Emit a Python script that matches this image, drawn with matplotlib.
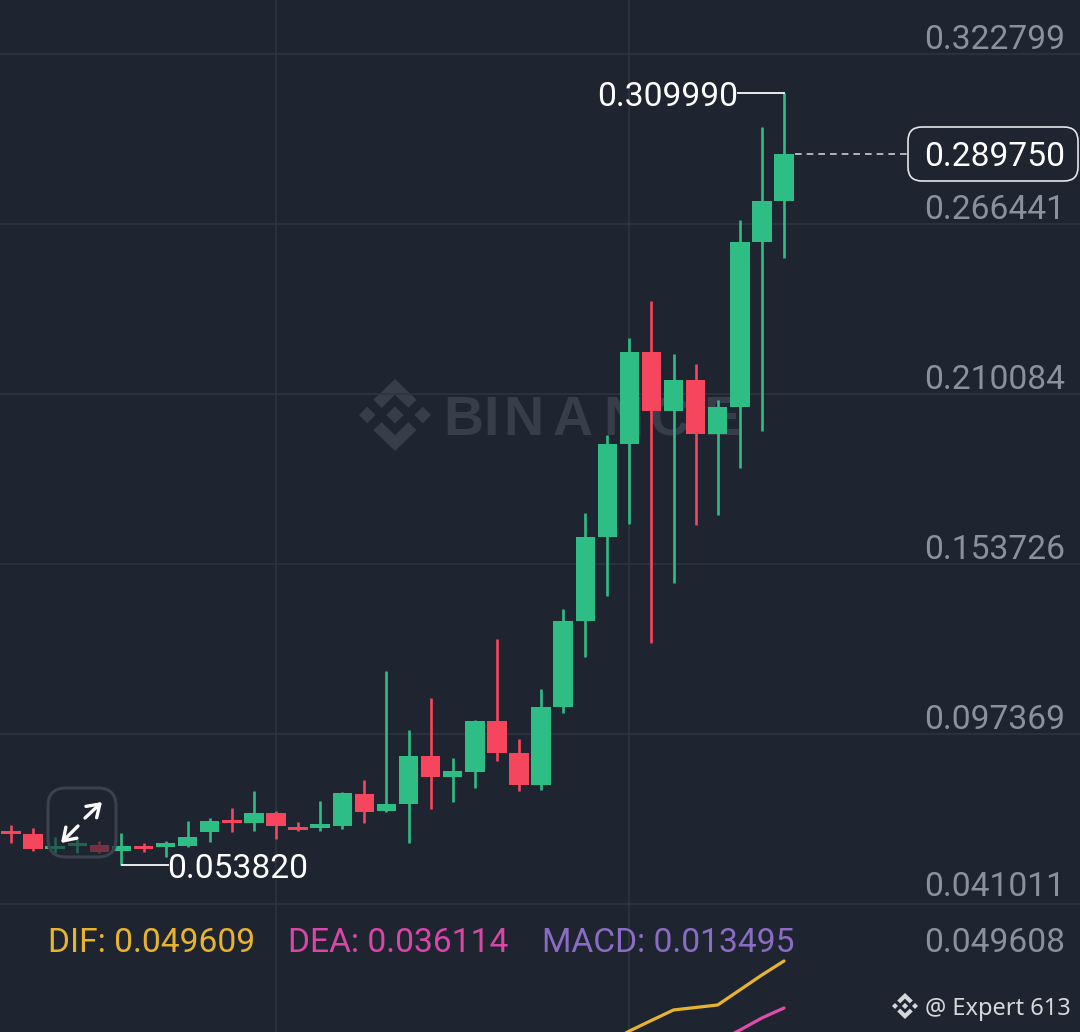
import matplotlib
matplotlib.use('Agg')
import matplotlib.pyplot as plt
import numpy as np
from matplotlib.patches import Polygon, FancyBboxPatch
from matplotlib.transforms import blended_transform_factory

plt.rcParams['font.family'] = ['Roboto', 'DejaVu Sans']

W, H = 1080, 1032
BG = '#1e2530'
GRID = '#2e3542'
GREEN = '#2ebd85'
RED = '#f6465d'
GREY = '#8a919d'
MARK = '#373d49'

# candles, oldest first
opens = [.06505, .06422, .05925, .06024, .06057, .05858, .06024, .05991, .06024, .06488,
         .06886, .06787, .07118, .06654, .06621, .06687, .07748, .07184, .07416, .09007,
         .08311, .08477, .10168, .09107, .08046, .10632, .13483, .16268, .19351, .22401,
         .20445, .21473, .19682, .20578, .26048, .27407]
closes = [.06438, .05925, .05991, .06090, .05825, .06024, .05925, .06123, .06322, .06853,
          .06787, .07118, .06687, .06554, .06753, .07781, .07151, .07416, .09007, .08311,
          .08510, .10168, .09107, .08046, .10632, .13483, .16268, .19351, .22401, .20445,
          .21473, .19682, .20578, .26048, .27407, .28975]
highs = [.06720, .06621, .06322, .06256, .06190, .06455, .06123, .06190, .06853, .06952,
         .07284, .07847, .07184, .06820, .07516, .07814, .08212, .11825, .09869, .10930,
         .08941, .10201, .12886, .09571, .11229, .13881, .17063, .19649, .22865, .24092,
         .22335, .22003, .20810, .26777, .29860, .30999]
lows = [.06123, .05858, .05792, .05792, .05792, .05382, .05825, .05659, .05991, .06157,
        .06488, .06521, .06256, .06521, .06521, .06588, .06787, .07151, .06123, .07250,
        .07483, .07947, .08842, .07847, .07880, .10433, .12290, .14312, .16699, .12754,
        .14743, .16666, .16997, .18555, .19782, .25517]

# macd pane, only the end of the lines is on screen
macd_idx = [27, 28, 29, 30, 31, 32, 33, 34, 35]
dif = [.02608, .02950, .03255, .03555, .03626, .03698, .04129, .04559, .04961]
dea_idx = [32, 33, 34, 35]
dea = [.02650, .02975, .03325, .03611]

grid_values = [0.322799, 0.266441, 0.210084, 0.153726, 0.097369, 0.041011]
grid_labels = ['0.322799', '0.266441', '0.210084', '0.153726', '0.097369', '0.041011']
vgrid_idx = [12, 28]

PX_STEP = 22.086
PX_X0 = 11.0
PRICE_PER_PX = 0.00033152
FS = 24.2


def logo(a, cx, cy, s, color, zorder=1):
    # binance diamond mark, s = half size in px
    def d(x, y, r):
        a.add_patch(Polygon([(cx+x*s, cy+(y-r)*s), (cx+(x+r)*s, cy+y*s),
                             (cx+x*s, cy+(y+r)*s), (cx+(x-r)*s, cy+y*s)],
                            closed=True, fc=color, ec='none', zorder=zorder))
    d(0, 0, .24)
    d(-.77, 0, .23)
    d(.77, 0, .23)
    for sg in (-1, 1):
        a.add_patch(Polygon([(cx, cy+sg*s), (cx+.6*s, cy+sg*.42*s), (cx+.37*s, cy+sg*.2*s),
                             (cx, cy+sg*.56*s), (cx-.37*s, cy+sg*.2*s), (cx-.6*s, cy+sg*.42*s)],
                            closed=True, fc=color, ec='none', zorder=zorder))


fig = plt.figure(figsize=(W/100, H/100), dpi=100, facecolor=BG)

# backdrop with the watermark
back = fig.add_axes([0, 0, 1, 1], zorder=0)
back.set_xlim(0, W)
back.set_ylim(H, 0)
back.axis('off')
logo(back, 395, 415, 36, MARK)
for ch, lx in zip('BINANCE', [443, 483, 503, 553, 603, 650, 703]):
    back.text(lx, 435, ch, color=MARK, fontsize=40, fontweight='bold', va='baseline', ha='left',
              family=['Liberation Sans', 'DejaVu Sans'])

# price pane
ax = fig.add_axes([0, 1-904/H, 1, 904/H], zorder=1)
ax.patch.set_alpha(0)
ax.set_xlim(-PX_X0/PX_STEP, (W-PX_X0)/PX_STEP)
ax.set_ylim(grid_values[-1], grid_values[-1]+904*PRICE_PER_PX)
for s in ax.spines.values():
    s.set_visible(False)
ax.set_xticks([])
ax.set_yticks([])

for v in grid_values:
    ax.axhline(v, color=GRID, lw=1.1, zorder=1, clip_on=False)
for i in vgrid_idx:
    ax.axvline(i, color=GRID, lw=1.1, zorder=1)

x = np.arange(len(opens))
o, c, h, l = map(np.array, (opens, closes, highs, lows))
colors = [GREEN if cc >= oo else RED for oo, cc in zip(o, c)]
ax.vlines(x, l, h, colors=colors, lw=1.9, zorder=3)
body = np.maximum(np.abs(c-o), 2.6*PRICE_PER_PX)
ax.bar(x, body, bottom=np.minimum(o, c), width=0.88, color=colors, zorder=4)

tr = blended_transform_factory(fig.transFigure, ax.transData)
for v, t in zip(grid_values, grid_labels):
    off = 21 if v == grid_values[-1] else 18
    ax.annotate(t, xy=(1065/W, v), xycoords=tr, xytext=(0, off*0.72), textcoords='offset points',
                color=GREY, fontsize=FS, ha='right', va='center_baseline', zorder=6)

# macd pane
sub = fig.add_axes([0, 0, 1, (H-904)/H], zorder=1)
sub.patch.set_alpha(0)
sub.set_xlim(ax.get_xlim())
sub.set_ylim(.02922, .06597)
for s in sub.spines.values():
    s.set_visible(False)
sub.set_xticks([])
sub.set_yticks([])
for i in vgrid_idx:
    sub.axvline(i, color=GRID, lw=1.1, zorder=1)
sub.plot(macd_idx, dif, color='#e8b32e', lw=2.3, zorder=3, solid_capstyle='round')
sub.plot(dea_idx, dea, color='#e04bb0', lw=2.3, zorder=3, solid_capstyle='round')

# everything on top, in pixels
top = fig.add_axes([0, 0, 1, 1], zorder=2)
top.patch.set_alpha(0)
top.set_xlim(0, W)
top.set_ylim(H, 0)
top.axis('off')

top.text(48, 940, 'DIF: 0.049609', color='#e8b32e', fontsize=FS, va='center_baseline', ha='left')
top.text(288, 940, 'DEA: 0.036114', color='#d946a8', fontsize=FS, va='center_baseline', ha='left')
top.text(542, 940, 'MACD: 0.013495', color='#8b6cc4', fontsize=FS, va='center_baseline', ha='left')
top.text(1065, 940, '0.049608', color=GREY, fontsize=FS, va='center_baseline', ha='right')

# high / low callouts
top.plot([738, 784], [93, 93], color='#e8eaed', lw=1.4, zorder=3)
top.text(738, 93, '0.309990', color='white', fontsize=FS, va='center_baseline', ha='right')
top.plot([122, 168], [865, 865], color='#e8eaed', lw=1.4, zorder=3)
top.text(167, 865, '0.053820', color='white', fontsize=FS, va='center_baseline', ha='left')

# last price
top.plot([795, 908], [154, 154], color='#c9ccd1', lw=1.2, dashes=(4, 3))
top.add_patch(FancyBboxPatch((920, 139), 146, 30, boxstyle='round,pad=12,rounding_size=14',
                             fc=BG, ec='#e4e6ea', lw=1.2, zorder=3))
top.text(1065, 153, '0.289750', color='white', fontsize=FS, va='center_baseline', ha='right', zorder=4)

# expand button
top.add_patch(FancyBboxPatch((62, 802), 40, 41, boxstyle='round,pad=14,rounding_size=18',
                             fc=BG, alpha=0.6, ec='none', zorder=5))
top.add_patch(FancyBboxPatch((62, 802), 40, 41, boxstyle='round,pad=14,rounding_size=18',
                             fc='none', ec='#3b424f', lw=2.2, zorder=6))
for (x0, y0, x1, y1) in [(85, 818, 102, 802), (78, 826, 61, 843)]:
    top.annotate('', xy=(x1, y1), xytext=(x0, y0),
                 arrowprops=dict(arrowstyle='->,head_length=0.6,head_width=0.4', color='white',
                                 lw=2.4, shrinkA=0, shrinkB=0, mutation_scale=14), zorder=7)

# bottom right credit
logo(top, 905, 1006, 13, '#d5d7db')
top.text(925, 1006, '@ Expert 613', color='#d5d7db', fontsize=17, va='center_baseline', ha='left',
         family=['Noto Sans', 'DejaVu Sans'])

fig.savefig('out.png', dpi=100, facecolor=BG)
